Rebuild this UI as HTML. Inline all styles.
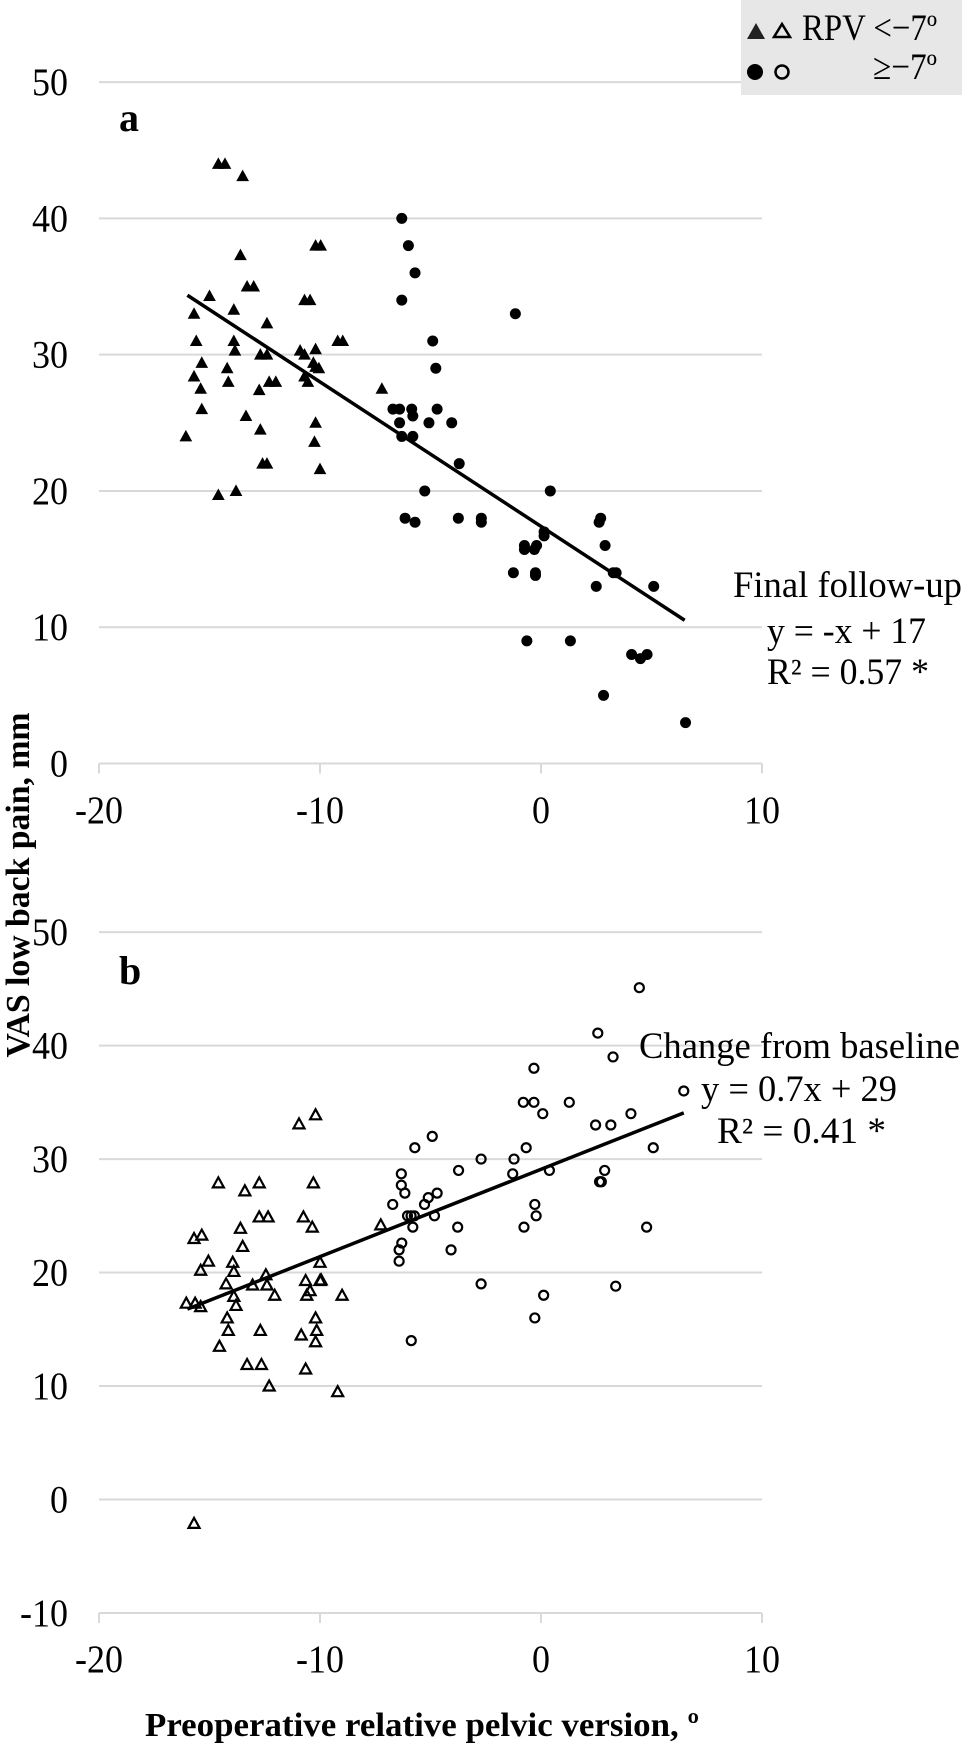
<!DOCTYPE html>
<html><head><meta charset="utf-8"><style>
html,body{margin:0;padding:0;background:#fff;}
svg{display:block;font-family:"Liberation Serif",serif;}
</style></head><body>
<svg id="chart" width="962" height="1748" viewBox="0 0 962 1748" xmlns="http://www.w3.org/2000/svg">
<g id="pa"></g>
<g id="pb"></g>
<rect x="741" y="0" width="221" height="95" fill="#e7e7e7"/>
<g>
<polygon points="747,39 765,39 756,23" fill="#222"/>
<polygon points="774,37 790,37 782,24" fill="none" stroke="#000" stroke-width="2.5"/>
<text x="802" y="40" font-size="37" textLength="135" lengthAdjust="spacingAndGlyphs">RPV &lt;−7º</text>
<circle cx="755" cy="72" r="8" fill="#000"/>
<circle cx="782" cy="72" r="6.5" fill="none" stroke="#000" stroke-width="2.5"/>
<text x="873" y="79" font-size="37" textLength="64" lengthAdjust="spacingAndGlyphs">≥−7º</text>
</g>
<text transform="translate(29,885) rotate(-90)" text-anchor="middle" font-size="34" font-weight="bold" textLength="345" lengthAdjust="spacingAndGlyphs">VAS low back pain, mm</text>
<text x="422" y="1736" text-anchor="middle" font-size="34" font-weight="bold" textLength="554" lengthAdjust="spacingAndGlyphs">Preoperative relative pelvic version, º</text>
<text x="119" y="131" font-size="40" font-weight="bold">a</text>
<text x="119" y="984" font-size="40" font-weight="bold">b</text>
<text x="733" y="597" font-size="37" textLength="229" lengthAdjust="spacingAndGlyphs">Final follow-up</text>
<text x="767" y="643" font-size="37" textLength="159" lengthAdjust="spacingAndGlyphs">y = -x + 17</text>
<text x="767" y="684" font-size="37" textLength="162" lengthAdjust="spacingAndGlyphs">R² = 0.57 *</text>
<text x="639" y="1058" font-size="37" textLength="321" lengthAdjust="spacingAndGlyphs">Change from baseline</text>
<text x="701" y="1101" font-size="37" textLength="196" lengthAdjust="spacingAndGlyphs">y = 0.7x + 29</text>
<text x="717" y="1143" font-size="37" textLength="169" lengthAdjust="spacingAndGlyphs">R² = 0.41 *</text>
</svg>
<script>
const xTicks=[-20,-10,0,10];
const aYTicks=[0,10,20,30,40,50];
const bYTicks=[-10,0,10,20,30,40,50];
const aTriX=[-16.07,-15.7,-15.6,-15.7,-15.4,-15.35,-15.35,-15.0,-14.6,-14.3,-14.6,-14.2,-14.15,-13.9,-13.9,-13.85,-13.8,-13.5,-13.6,-13.35,-13.3,-13.0,-12.75,-12.7,-12.7,-12.4,-12.6,-12.4,-12.4,-12.3,-12.0,-10.9,-10.7,-10.7,-10.45,-10.7,-10.55,-10.3,-10.2,-10.2,-10.05,-10.2,-10.25,-10.2,-9.97,-10.0,-9.2,-8.97,-7.2];
const aTriY=[24.0,33.0,31.0,28.4,27.5,29.4,26.0,34.3,44,44,19.7,29.0,28.0,33.3,31.0,30.3,20.0,43.1,37.3,25.5,35,35,27.4,24.5,30,30,22,22,32.3,28,28,30.3,30.0,34,34,28.4,28.0,29.4,30.4,29.1,29.0,25.0,23.6,38,38,21.6,31,31,27.5];
const aCirX=[-6.3,-6.0,-5.7,-6.3,-1.16,-4.9,-4.76,-6.7,-6.4,-5.85,-5.8,-4.7,-6.4,-5.07,-4.04,-6.3,-5.8,-3.7,-5.26,0.42,-6.15,-5.7,-3.74,-2.7,-2.7,2.7,2.63,0.14,0.14,-0.75,-0.75,-0.2,-0.3,2.9,-1.25,-0.25,-0.25,3.27,3.4,2.5,5.1,-0.64,1.33,4.1,4.5,4.8,2.83,6.54];
const aCirY=[40,38,36,34,33,31,29,26,26,26,25.5,26,25,25,25,24,24,22,20,20,18,17.7,18,18,17.7,18,17.7,17,16.7,16,15.7,16,15.7,16,14,14,13.8,14,14,13,13,9,9,8,7.7,8,5,3];
const bTriX=[-16.05,-15.65,-15.4,-15.7,-15.35,-15.4,-15.05,-15.7,-14.6,-14.55,-14.25,-14.2,-14.15,-13.95,-13.9,-13.9,-13.8,-13.6,-13.5,-13.4,-13.3,-13.05,-12.75,-12.75,-12.35,-12.7,-12.65,-12.45,-12.4,-12.3,-12.05,-10.95,-10.2,-10.3,-10.85,-10.75,-10.35,-10.65,-10.45,-10.6,-10.2,-10.15,-10.2,-10.65,-10.0,-10.0,-9.95,-9.0,-9.2,-7.25];
const bTriY=[17.3,17.3,17.0,23.0,23.3,20.2,21.0,-2.1,27.9,13.5,19.0,16.0,14.9,20.9,20.1,17.9,17.1,23.9,22.3,27.2,11.9,18.9,27.9,24.9,24.9,14.9,11.9,19.8,18.9,10.0,18.0,33.1,33.9,27.9,14.5,24.9,24.0,19.3,18.4,18.0,16.0,14.9,13.9,11.5,20.9,19.3,19.35,18.0,9.5,24.2];
const bCirX=[4.45,2.57,3.26,-0.32,6.46,-0.8,-0.32,1.28,0.08,4.07,2.47,3.16,-4.92,-5.71,-0.67,5.08,-2.71,-1.22,-1.28,-3.73,0.38,2.88,2.65,2.73,-6.32,-6.32,-6.16,-4.7,-5.1,-5.27,-6.71,-0.28,-0.22,-6.04,-5.88,-5.73,-4.82,-5.8,-3.77,-0.77,4.78,-6.3,-6.42,-6.42,-4.07,-2.71,3.38,0.12,-0.28,-5.87];
const bCirY=[45.1,41.1,39.0,38.0,36.0,35.0,35.0,35.0,34.0,34.0,33.0,33.0,32.0,31.0,31.0,31.0,30.0,30.0,28.7,29.0,29.0,29.0,28.0,28.0,28.7,27.7,27.0,27.0,26.6,26.0,26.0,26.0,25.0,25,25,25,25.0,24.0,24.0,24.0,24.0,22.6,22.0,21.0,22.0,19.0,18.8,18.0,16.0,14.0];
const aFit=[-1.06,17.4];
const bFit=[0.77,29.1];
const fitRangeA=[-16.0,6.5];
const fitRangeB=[-16.0,6.46];

const NS='http://www.w3.org/2000/svg';
function mk(parent,tag,attrs){const e=document.createElementNS(NS,tag);for(const k in attrs)e.setAttribute(k,attrs[k]);parent.appendChild(e);return e;}
const xS=v=>99+(v+20)*(762-99)/30;
function panel(g,yMin,yMax,yTop,yBot,yTicks,fill,tx,ty,cx,cy,fit,fr,labelY){
  const yS=v=>yBot-(v-yMin)*(yBot-yTop)/(yMax-yMin);
  yTicks.forEach(t=>{
    const l=mk(g,'line',{x1:99,x2:762,y1:yS(t),y2:yS(t),stroke:'#d9d9d9','stroke-width':2});
    
    
    const tx2=mk(g,'text',{x:68,y:yS(t)+13,'text-anchor':'end','font-size':39,textLength:(String(t).length*18-(t<0?6:0)),lengthAdjust:'spacingAndGlyphs'});
    tx2.textContent=t;
    
    
  });
  xTicks.forEach(t=>{
    const l=mk(g,'line',{x1:xS(t),x2:xS(t),y1:yBot,y2:yBot+10,stroke:'#d9d9d9','stroke-width':2});
    
    
    const s=String(t);
    const tt=mk(g,'text',{x:xS(t),y:labelY,'text-anchor':'middle','font-size':39,textLength:(s.length*18-(t<0?6:0)),lengthAdjust:'spacingAndGlyphs'});
    tt.textContent=s;
    
    
  });
  tx.forEach((v,i)=>{
    const X=xS(v),Y=yS(ty[i]);
    const p=mk(g,'polygon',{points:`${X-5.5},${Y+4.5} ${X+5.5},${Y+4.5} ${X},${Y-5.5}`,fill:fill?'#000':'none',stroke:'#000','stroke-width':fill?1:2.2});
    
    
  });
  cx.forEach((v,i)=>{
    const c=mk(g,'circle',{cx:xS(v),cy:yS(cy[i]),r:fill?5.5:4.5,fill:fill?'#000':'none',stroke:'#000','stroke-width':fill?0:2.2});
    
    
  });
  const ln=mk(g,'line',{x1:xS(fr[0]),y1:yS(fit[0]*fr[0]+fit[1]),x2:xS(fr[1]),y2:yS(fit[0]*fr[1]+fit[1]),stroke:'#000','stroke-width':3.5});
  
  
}
panel(document.getElementById('pa'),0,50,82.1,763.5,aYTicks,true,aTriX,aTriY,aCirX,aCirY,aFit,fitRangeA,823);
panel(document.getElementById('pb'),-10,50,932.1,1613,bYTicks,false,bTriX,bTriY,bCirX,bCirY,bFit,fitRangeB,1672);
</script>
</body></html>
